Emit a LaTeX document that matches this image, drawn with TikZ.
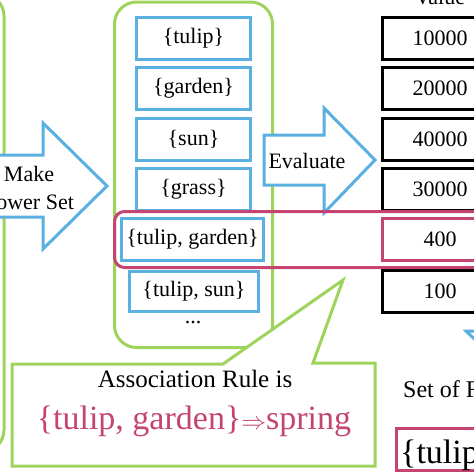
\documentclass[tikz,border=0pt]{standalone}
\usepackage{fontspec}
\setmainfont{Liberation Serif}
\usetikzlibrary{positioning}
\definecolor{skyblue}{HTML}{5BB0E2}
\definecolor{leafgreen}{HTML}{9ED35C}
\definecolor{rosepink}{HTML}{C44472}
\newcommand{\fsz}[1]{\fontsize{#1}{#1}\selectfont}
\tikzset{
  panel/.style={draw=leafgreen, line width=3pt, rounded corners=22pt, fill=white},
  setbox/.style={draw=skyblue, line width=3pt, fill=white, minimum width=114pt, minimum height=42pt, inner sep=0pt, font=\fsz{22}},
  valbox/.style={draw=black, line width=3pt, fill=white, minimum width=115pt, minimum height=42pt, inner sep=0pt, font=\fsz{22}},
  blockarrow/.style={draw=skyblue, line width=3pt, fill=white, line join=miter},
  hitbox/.style={draw=rosepink, line width=3pt},
  callout/.style={draw=leafgreen, line width=3pt, fill=white, line join=miter},
}

\begin{document}
\begin{tikzpicture}[x=1pt,y=-1pt]
\useasboundingbox (0,0) rectangle (474,474);
\clip (0,0) rectangle (474,474);
% left panel and first step
\draw[panel] (-200,-6) rectangle (4,452);
\draw[blockarrow] (-60,155) -- (43,155) -- (43,123) -- (107,186) -- (43,249) -- (43,217) -- (-60,217) -- cycle;
\node[align=center, font=\fontsize{22}{28}\selectfont] (mkpow) at (29,188) {Make\\Power Set};
% power set column
\draw[panel] (114.5,2) rectangle (272.5,347.5);
\node[setbox] (tulip) at (193.5,38) {\{tulip\}};
\node[setbox] (garden) at (193.5,88.5) {\{garden\}};
\node[setbox] (sun) at (193.5,139) {\{sun\}};
\node[setbox] (grass) at (193.5,189.5) {\{grass\}};
\node[setbox, minimum width=142pt] (tulipgarden) at (192.5,239.5) {\{tulip, garden\}};
\node[setbox, minimum width=129pt, minimum height=40pt] (tulipsun) at (194,291) {\{tulip, sun\}};
\node[font=\fsz{22}] (more) at (193,323) {...};
% evaluate step
\draw[blockarrow] (264,135) -- (324,135) -- (324,108) -- (375,160) -- (324,213) -- (324,185) -- (264,185) -- cycle;
\node[font=\fsz{22}, anchor=base] (evaluate) at (307,168) {Evaluate};
% value column
\node[font=\fsz{22}, anchor=base] (value) at (440,4) {Value};
\node[valbox] (v1) at (440,38) {10000};
\node[valbox] (v2) at (440,88.5) {20000};
\node[valbox] (v3) at (440,139) {40000};
\node[valbox] (v4) at (440,189.5) {30000};
\node[valbox, draw=rosepink] (v5) at (440,239.5) {400};
\node[valbox] (v6) at (440,291.5) {100};
\draw[hitbox, rounded corners=10pt] (114.5,211.5) rectangle (560,267.5);
% rule callout
\draw[callout] (12,364) -- (223,364) -- (343,280) -- (313,363) -- (375,363) -- (375,466) -- (12,466) -- cycle;
\node[font=\fsz{25}, anchor=base] (ruletitle) at (195,387) {Association Rule is};
\node[font=\fsz{34}, text=rosepink, anchor=base] (rule) at (194,429) {\{tulip, garden\}$\Rightarrow$spring};
% frequent sets
\draw[blockarrow] (490,318) -- (490,331) -- (466,331) -- (530,392) -- (594,331) -- (570,331) -- (570,318) -- cycle;
\node[font=\fsz{24}, anchor=base west, inner sep=0pt] (freqtitle) at (403,397) {Set of Frequent Itemsets};
\draw[hitbox] (396.5,428.5) rectangle (600,470.5);
\node[font=\fsz{34}, anchor=base west, inner sep=0pt] (freqset) at (400,463) {\{tulip, garden, spring\}};
\end{tikzpicture}
\end{document}
